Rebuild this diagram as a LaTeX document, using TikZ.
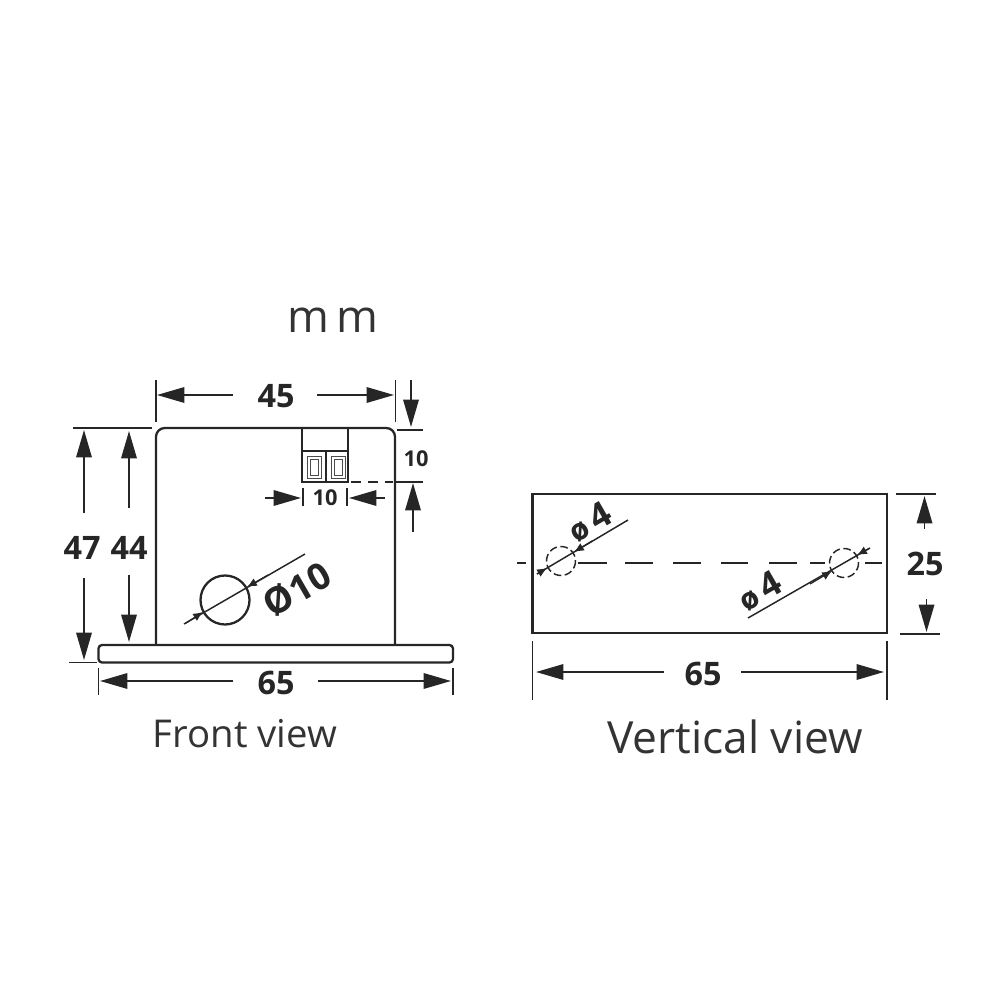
\documentclass[tikz,border=0pt]{standalone}
\usepackage{fontspec}
\setmainfont{Open Sans}
\usetikzlibrary{arrows.meta}
\tikzset{
    outline/.style={line width=0.65pt, black!85},
    thinline/.style={line width=0.42pt, black!85},
    fineline/.style={line width=0.28pt, black!70},
    dimarrow/.style={line width=0.55pt, black!85, -{Triangle[length=7.8pt,width=4.4pt]}},
    smallarrow/.style={line width=0.35pt, black!85, -{Latex[length=2.8pt,width=2.4pt]}},
    dimtext/.style={inner sep=0pt, black!85, font=\bfseries\fontsize{9.2}{10}\selectfont},
    smalltext/.style={inner sep=0pt, black!85, font=\bfseries\fontsize{6.2}{7}\selectfont},
    viewtext/.style={inner sep=0pt, black!80}
}
\begin{document}
\begin{tikzpicture}[x=0.01cm,y=-0.01cm]
    \useasboundingbox (0,0) rectangle (1001,1001);
    \node[viewtext, font=\fontsize{12.8}{13}\selectfont] (unit) at (333,320) {m\,m};
    % Front view
    \draw[outline, rounded corners=2.5pt] (156,645) -- (156,428) -- (395,428) -- (395,645);
    \draw[outline, rounded corners=1pt] (98.5,645) rectangle (453,662.5);
    \draw[thinline] (302,428) rectangle (348,482);
    \draw[thinline] (302,451) -- (348,451) (326,451) -- (326,482);
    \foreach \xa in {307,331} {
        \draw[fineline] (\xa,456) rectangle (\xa+14,478);
        \draw[fineline] (\xa+3,459) rectangle (\xa+11,475);
    }
    \draw[outline, dash pattern=on 2.8pt off 2pt] (351,482) -- (393,482);
    \draw[outline] (225,600) circle (24.5);
    \draw[thinline] (184,624) -- (305,554);
    \draw[smallarrow] (186,623) -- (203,612);
    \draw[smallarrow] (268,575) -- (247,587);
    \node[dimtext, rotate=30, font=\bfseries\fontsize{10.4}{12}\selectfont] (holetext) at (297,590) {Ø10};
    % Dimension lines of the front view
    \draw[thinline] (156,380) -- (156,422);
    \draw[thinline] (395.5,380) -- (395.5,422);
    \draw[dimarrow] (233,395) -- (157,395);
    \draw[dimarrow] (317,395) -- (394,395);
    \node[dimtext] (width) at (276,396) {45};
    \draw[dimarrow] (411,380) -- (411,427);
    \draw[thinline] (397,430) -- (423,430);
    \draw[thinline] (396,482) -- (423,482);
    \draw[dimarrow] (413,532) -- (413,483);
    \node[smalltext] (termh) at (416,459) {10};
    \draw[thinline] (303,488) -- (303,506);
    \draw[thinline] (347,488) -- (347,506);
    \draw[dimarrow] (265,498) -- (301,498);
    \draw[dimarrow] (385,498) -- (349,498);
    \node[smalltext] (termw) at (325,498) {10};
    \draw[thinline] (73,428) -- (152,428);
    \draw[thinline] (69,662.5) -- (97,662.5);
    \draw[dimarrow] (84,513) -- (84,430);
    \draw[dimarrow] (84,578) -- (84,660);
    \node[dimtext] (total) at (82,548) {47};
    \draw[dimarrow] (129,508) -- (129,431);
    \draw[dimarrow] (129,575) -- (129,642);
    \node[dimtext] (body) at (129,548) {44};
    \draw[thinline] (98.5,668) -- (98.5,695);
    \draw[thinline] (453,668) -- (453,695);
    \draw[dimarrow] (233,681) -- (100,681);
    \draw[dimarrow] (318,681) -- (451,681);
    \node[dimtext] (base) at (276,683) {65};
    \node[viewtext, font=\fontsize{10.9}{12}\selectfont] (front) at (245,734) {Front view};
    % Vertical view
    \draw[outline] (532.5,494) rectangle (887,633);
    \foreach \xa/\xb in {517/526,578/607,625/653,673/701,721/748,769/797,810/825,865/882} {
        \draw[thinline] (\xa,563) -- (\xb,563);
    }
    \draw[thinline, dash pattern=on 2.2pt off 1pt] (561,561) circle (14.5);
    \draw[thinline, dash pattern=on 2.2pt off 1pt] (844,563) circle (14.5);
    \draw[thinline] (537,574) -- (628,520);
    \draw[thinline] (748,618) -- (870,548);
    \draw[smallarrow] (537,574) -- (547,568);
    \draw[smallarrow] (592,541) -- (574,552);
    \draw[smallarrow] (810,584) -- (832,571);
    \draw[smallarrow] (869,548.5) -- (857,555);
    \node[dimtext, rotate=30] (holea) at (590,522) {{\fontsize{8.5}{9}\selectfont ø}\,{\fontsize{10}{11}\selectfont 4}};
    \node[dimtext, rotate=30] (holeb) at (760,591) {{\fontsize{8.5}{9}\selectfont ø}\,{\fontsize{10}{11}\selectfont 4}};
    \draw[thinline] (896,494) -- (936,494);
    \draw[thinline] (900,634) -- (940,634);
    \draw[dimarrow] (924.5,529) -- (924.5,496);
    \draw[dimarrow] (926.5,599) -- (926.5,632);
    \node[dimtext] (depth) at (925,564) {25};
    \draw[thinline] (532.5,641) -- (532.5,700);
    \draw[thinline] (887,641) -- (887,700);
    \draw[dimarrow] (664,672) -- (536,672);
    \draw[dimarrow] (741,672) -- (884,672);
    \node[dimtext] (length) at (703,674) {65};
    \node[viewtext, font=\fontsize{12.6}{14}\selectfont] (vertical) at (735,737) {Vertical view};
\end{tikzpicture}
\end{document}
